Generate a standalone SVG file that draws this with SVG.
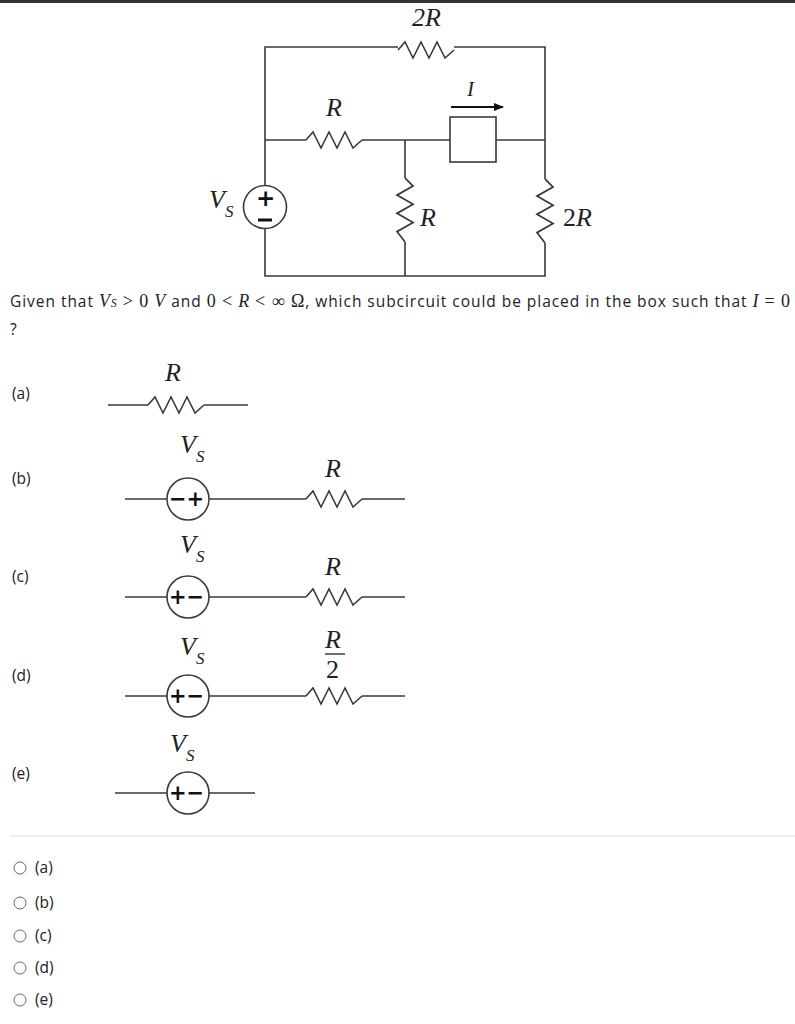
<svg xmlns="http://www.w3.org/2000/svg" width="795" height="1024" viewBox="0 0 795 1024">
<style>
.w{fill:none;stroke:#3a3a3a;stroke-width:1.6}
.m{font-family:"Liberation Serif",serif;font-style:italic;font-size:26px;fill:#222}
.n{font-family:"Liberation Serif",serif;font-size:26px;fill:#222}
.s{font-family:"Liberation Serif",serif;font-style:italic;font-size:17px;fill:#222}
.t{font-family:"Open Sans","Liberation Sans",sans-serif;font-size:15.5px;fill:#222}
.im{font-family:"Liberation Serif",serif;font-style:italic;font-size:18px}
.is{font-family:"Liberation Serif",serif;font-style:italic;font-size:12px}
.ir{font-family:"Liberation Serif",serif;font-size:18px}
.pm{font-family:"DejaVu Sans",sans-serif;font-weight:bold;font-size:21px;fill:#111}
.r{fill:#fff;stroke:#666;stroke-width:1}
</style>
<defs>
<path id="zh" class="w" d="M0,0 l7,-8 8,16 8,-16 8,16 8,-16 8,16 9,-8"/>
<marker id="ar" markerWidth="10" markerHeight="8" refX="9" refY="4" orient="auto" markerUnits="userSpaceOnUse"><path d="M0,0 L10,4 L0,8 z" fill="#111"/></marker>
</defs>
<rect x="0" y="0" width="795" height="3" fill="#333"/>
<g id="connectors">
<path class="w" d="M265,186 V47 H398 M454,47 H545 V179 M545,243 V276 H265 V229 M265,140 H306 M362,140 H450 M496,140 H545 M405,140 V178 M405,242 V276"/>
<line x1="451" y1="107" x2="503" y2="107" stroke="#111" stroke-width="2" marker-end="url(#ar)"/>
</g>
<g id="r2top"><use href="#zh" x="398" y="50"/><text class="m" x="412" y="26">2<tspan>R</tspan></text></g>
<g id="rmid"><use href="#zh" x="306" y="140"/><text class="m" x="326" y="116">R</text></g>
<g id="box"><rect x="450" y="117" width="46" height="45" fill="none" stroke="#3a3a3a" stroke-width="1.6"/><text class="m" x="467" y="96" style="font-size:21px">I</text></g>
<g id="vs"><circle cx="265" cy="207" r="21.5" class="w"/><text class="pm" x="256" y="206" style="font-size:23px">+</text><line x1="258" y1="220" x2="272" y2="220" stroke="#111" stroke-width="3"/><text class="m" x="209" y="208">V<tspan class="s" dy="9">S</tspan></text></g>
<g id="rv"><use href="#zh" transform="translate(405,178) rotate(90) scale(1.14,1)"/><text class="m" x="420" y="226">R</text></g>
<g id="r2right"><use href="#zh" transform="translate(545,179) rotate(90) scale(1.14,1)"/><text class="n" x="563" y="226">2<tspan class="m">R</tspan></text></g>
<text class="t" x="10" y="307" textLength="780" lengthAdjust="spacing">Given that <tspan class="im">V</tspan><tspan class="is">S</tspan> <tspan class="ir">&gt; 0</tspan> <tspan class="im">V</tspan> and <tspan class="ir">0 &lt;</tspan> <tspan class="im">R</tspan> <tspan class="ir">&lt; ∞ Ω</tspan>, which subcircuit could be placed in the box such that <tspan class="im">I</tspan> <tspan class="ir">= 0</tspan></text>
<text class="t" x="10" y="335">?</text>
<g id="a"><text class="t" x="12" y="399">(a)</text><path class="w" d="M108,405 H148 M204,405 H248"/><use href="#zh" x="148" y="405"/><text class="m" x="165" y="381">R</text></g>
<g id="b"><text class="t" x="12" y="484">(b)</text><path class="w" d="M125,499 H167 M209,499 H306 M362,499 H405"/><circle cx="188" cy="499" r="21" class="w"/><text class="pm" x="169" y="506">−+</text><use href="#zh" x="306" y="499"/><text class="m" x="180" y="453">V<tspan class="s" dy="9">S</tspan></text><text class="m" x="325" y="477">R</text></g>
<g id="c"><text class="t" x="12" y="582">(c)</text><path class="w" d="M125,597 H167 M209,597 H306 M362,597 H405"/><circle cx="188" cy="597" r="21" class="w"/><text class="pm" x="169" y="604">+−</text><use href="#zh" x="306" y="597"/><text class="m" x="180" y="553">V<tspan class="s" dy="9">S</tspan></text><text class="m" x="325" y="575">R</text></g>
<g id="d"><text class="t" x="12" y="681">(d)</text><path class="w" d="M125,696 H167 M209,696 H306 M362,696 H405"/><circle cx="188" cy="696" r="21" class="w"/><text class="pm" x="169" y="703">+−</text><use href="#zh" x="306" y="696"/><text class="m" x="180" y="655">V<tspan class="s" dy="9">S</tspan></text><text class="m" x="325" y="648">R</text><line x1="325" y1="654" x2="345" y2="654" stroke="#222" stroke-width="1.3"/><text class="n" x="326" y="678">2</text></g>
<g id="e"><text class="t" x="12" y="779">(e)</text><path class="w" d="M115,793 H167 M209,793 H255"/><circle cx="188" cy="793" r="21" class="w"/><text class="pm" x="169" y="800">+−</text><text class="m" x="170" y="752">V<tspan class="s" dy="9">S</tspan></text></g>
<line x1="10" y1="836" x2="795" y2="836" stroke="#ddd" stroke-width="1"/>
<g id="opts">
<circle class="r" cx="20" cy="868" r="6"/><text class="t" x="35" y="873">(a)</text>
<circle class="r" cx="20" cy="903" r="6"/><text class="t" x="35" y="908">(b)</text>
<circle class="r" cx="20" cy="936" r="6"/><text class="t" x="35" y="941">(c)</text>
<circle class="r" cx="20" cy="968" r="6"/><text class="t" x="35" y="973">(d)</text>
<circle class="r" cx="20" cy="1000" r="6"/><text class="t" x="35" y="1005">(e)</text>
</g>
</svg>
